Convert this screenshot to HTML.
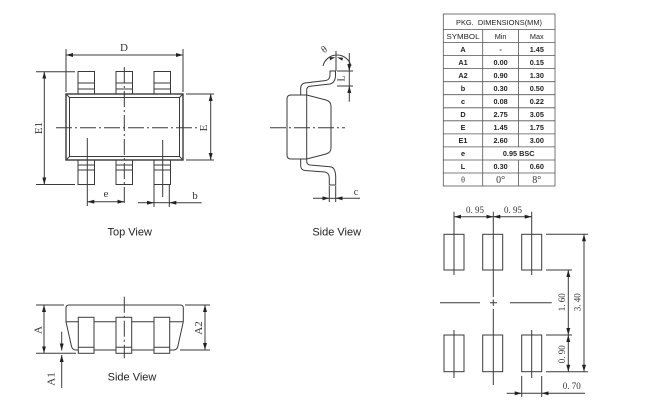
<!DOCTYPE html>
<html><head><meta charset="utf-8"><style>
html,body{margin:0;padding:0;background:#fff;}
svg{display:block;}
.s{font-family:"Liberation Serif",serif;fill:#333;}
.t{font-family:"Liberation Sans",sans-serif;fill:#222;}
</style></head><body>
<svg width="650" height="405" viewBox="0 0 650 405" xmlns="http://www.w3.org/2000/svg">
<defs>
<marker id="a" viewBox="0 0 7 4" refX="7" refY="2" markerWidth="7" markerHeight="4" markerUnits="userSpaceOnUse" orient="auto-start-reverse"><path d="M0,0 L7,2 L0,4 z" fill="#222"/></marker>
</defs>

<!-- ================= TOP VIEW ================= -->
<g fill="none" stroke="#3a3a3a" stroke-width="1">
 <path d="M66 49V92M183 49V92"/>
 <path d="M66 55H183" marker-start="url(#a)" marker-end="url(#a)"/>
 <rect x="78" y="71.5" width="16.5" height="23" fill="#fff"/>
 <rect x="116" y="71.5" width="16.5" height="23" fill="#fff"/>
 <rect x="154" y="71.5" width="16.5" height="23" fill="#fff"/>
 <path d="M78 83h16.5M78 89h16.5M116 83h16.5M116 89h16.5M154 83h16.5M154 89h16.5"/>
 <rect x="78" y="159.5" width="16.5" height="25" fill="#fff"/>
 <rect x="116" y="159.5" width="16.5" height="25" fill="#fff"/>
 <rect x="154" y="159.5" width="16.5" height="25" fill="#fff"/>
 <path d="M78 165h16.5M78 170h16.5M116 165h16.5M116 170h16.5M154 165h16.5M154 170h16.5"/>
 <rect x="66" y="94" width="117" height="66" stroke-width="1.4" fill="#fff"/>
 <rect x="69.5" y="97.5" width="110" height="59"/>
 <path d="M66 94l3.5 3.5M183 94l-3.5 3.5M66 160l3.5-3.5M183 160l-3.5-3.5"/>
 <path d="M124.3 67V206" stroke-dasharray="16 3 2 3"/>
 <path d="M56 127.7H200" stroke-dasharray="16 3 2 3"/>
 <path d="M36 71.7H75M36 184.5H75"/>
 <path d="M44.3 71.7V184.5" marker-start="url(#a)" marker-end="url(#a)"/>
 <path d="M186 94H214M186 160H214"/>
 <path d="M210.7 94V160" marker-start="url(#a)" marker-end="url(#a)"/>
 <path d="M87.3 138V206"/>
 <path d="M87.3 201.7H124.3" marker-start="url(#a)" marker-end="url(#a)"/>
 <path d="M162.7 140V197"/>
 <path d="M154 185V207M169.3 185V207"/>
 <path d="M138 202.7H154" marker-end="url(#a)"/>
 <path d="M201.7 202.7H169.3" marker-end="url(#a)"/>
 <path d="M154 202.7H169.3"/>
</g>
<text class="s" x="124" y="51" font-size="11" text-anchor="middle">D</text>
<text class="s" transform="translate(42,128) rotate(-90)" font-size="11" text-anchor="middle">E1</text>
<text class="s" transform="translate(207,128) rotate(-90)" font-size="11" text-anchor="middle">E</text>
<text class="s" x="106" y="197" font-size="11" text-anchor="middle">e</text>
<text class="s" x="195" y="199" font-size="11" text-anchor="middle">b</text>
<text class="t" x="129.7" y="235.7" font-size="11" text-anchor="middle">Top View</text>

<!-- ================= SIDE VIEW (right) ================= -->
<g fill="none" stroke="#3a3a3a" stroke-width="1">
 <path d="M300.7 95V88Q301 83.5 305 83L326 80.5Q330 79.5 330 75V71H335.5V76Q335 83 330 84L310 86.3Q306.7 87 306.7 90V95" fill="#fff"/>
 <path d="M300.7 159V166Q301 170 305 170.5L325 172Q329.3 173 329.3 178V185H335.7V177Q335.5 167 330 166.7L310 165Q306.7 164.5 306.7 161V159" fill="#fff"/>
 <path d="M306.7 95H291Q287 95 287 99V155Q287 159 291 159H306.7L326 154Q331 152.5 331 148V106Q331 101.5 326 100Z" fill="#fff"/>
 <path d="M306.7 95V159"/>
 <path d="M270 127.7H345" stroke-dasharray="16 3 2 3"/>
 <path d="M337 71H353M337 86H353"/>
 <path d="M349.3 53V71" marker-end="url(#a)"/>
 <path d="M349.3 101.7V86" marker-end="url(#a)"/>
 <path d="M349.3 71V86"/>
 <path d="M336 71V51"/>
 <path d="M323 66A14.4 14.4 0 0 1 351 66"/>
 <path d="M329.3 186V202M335.7 186V202"/>
 <path d="M313 198.3H329.3" marker-end="url(#a)"/>
 <path d="M360 198.3H335.7" marker-end="url(#a)"/>
 <path d="M329.3 198.3H335.7"/>
</g>
<polygon points="335.5,57.3 329.5,57.3 330,60.3" fill="#222"/>
<polygon points="337,57.3 343,57.8 342.3,60.6" fill="#222"/>
<text class="s" transform="translate(326,52) rotate(-35)" font-size="10" text-anchor="middle">θ</text>
<text class="s" transform="translate(344.5,78.5) rotate(-90)" font-size="10" text-anchor="middle">L</text>
<text class="s" x="356" y="195" font-size="10" text-anchor="middle">c</text>
<text class="t" x="336.7" y="235.7" font-size="11" text-anchor="middle">Side View</text>

<!-- ================= SIDE VIEW (bottom) ================= -->
<g fill="none" stroke="#3a3a3a" stroke-width="1">
 <path d="M183.3 321.7V308Q183.3 305 180.3 305H69Q66 305 66 308V321.7L71.5 346.5Q72.5 350 76 350H173.5Q177 350 177.8 346.5Z" fill="#fff"/>
 <path d="M66 321.7H183.3"/>
 <rect x="78.3" y="317.3" width="15.7" height="36" fill="#fff"/>
 <rect x="116" y="317.3" width="15.7" height="36" fill="#fff"/>
 <rect x="154" y="317.3" width="15.7" height="36" fill="#fff"/>
 <path d="M78.3 347.3h15.7M116 347.3h15.7M154 347.3h15.7"/>
 <path d="M124.3 296.7V358.3" stroke-dasharray="16 3 2 3"/>
 <path d="M36 305H64M36 353.3H76"/>
 <path d="M44 305V353.3" marker-start="url(#a)" marker-end="url(#a)"/>
 <path d="M61.7 331.7V350.5" marker-end="url(#a)"/>
 <path d="M61.7 388V355" marker-end="url(#a)"/>
 <path d="M185 305H210M180 350H210"/>
 <path d="M205 305V350" marker-start="url(#a)" marker-end="url(#a)"/>
</g>
<text class="s" transform="translate(41.5,330) rotate(-90)" font-size="11" text-anchor="middle">A</text>
<text class="s" transform="translate(54.5,379) rotate(-90)" font-size="11" text-anchor="middle">A1</text>
<text class="s" transform="translate(202,328) rotate(-90)" font-size="11" text-anchor="middle">A2</text>
<text class="t" x="132" y="380.5" font-size="11" text-anchor="middle">Side View</text>

<!-- ================= TABLE ================= -->
<g fill="none" stroke="#555" stroke-width="0.8">
 <rect x="443.3" y="14" width="111.7" height="172"/>
 <path d="M443.3 29.5H555M443.3 42.5H555M443.3 55.6H555M443.3 68.6H555M443.3 81.7H555M443.3 94.7H555M443.3 107.8H555M443.3 120.8H555M443.3 133.9H555M443.3 146.9H555M443.3 160H555M443.3 173H555"/>
 <path d="M482.7 29.5V186M518.5 29.5V146.9M518.5 160V186"/>
</g>
<g class="t" font-size="7.3" text-anchor="middle">
 <text x="499" y="25" textLength="86" lengthAdjust="spacingAndGlyphs">PKG.&#160;&#160;DIMENSIONS(MM)</text>
 <text x="463" y="38.8" textLength="33" lengthAdjust="spacingAndGlyphs">SYMBOL</text>
 <text x="500.6" y="38.8">Min</text>
 <text x="536.8" y="38.8">Max</text>
</g>
<g class="t" font-size="7.3" text-anchor="middle" font-weight="bold" fill="#333">
 <text x="463" y="51.8">A</text><text x="500.6" y="51.8">-</text><text x="536.8" y="51.8">1.45</text>
 <text x="463" y="64.8">A1</text><text x="500.6" y="64.8">0.00</text><text x="536.8" y="64.8">0.15</text>
 <text x="463" y="77.9">A2</text><text x="500.6" y="77.9">0.90</text><text x="536.8" y="77.9">1.30</text>
 <text x="463" y="90.9">b</text><text x="500.6" y="90.9">0.30</text><text x="536.8" y="90.9">0.50</text>
 <text x="463" y="104">c</text><text x="500.6" y="104">0.08</text><text x="536.8" y="104">0.22</text>
 <text x="463" y="117">D</text><text x="500.6" y="117">2.75</text><text x="536.8" y="117">3.05</text>
 <text x="463" y="130.1">E</text><text x="500.6" y="130.1">1.45</text><text x="536.8" y="130.1">1.75</text>
 <text x="463" y="143.1">E1</text><text x="500.6" y="143.1">2.60</text><text x="536.8" y="143.1">3.00</text>
 <text x="463" y="156.2">e</text><text x="518.7" y="156.2">0.95 BSC</text>
 <text x="463" y="169.2">L</text><text x="500.6" y="169.2">0.30</text><text x="536.8" y="169.2">0.60</text>
</g>
<g class="s" text-anchor="middle" fill="#888">
 <text x="463" y="182.5" font-size="8">θ</text>
 <text x="500.6" y="183" font-size="10">0°</text>
 <text x="536.8" y="183" font-size="10">8°</text>
</g>

<!-- ================= LAND PATTERN ================= -->
<g fill="none" stroke="#3a3a3a" stroke-width="1">
 <rect x="444" y="234.3" width="20" height="35.7"/>
 <rect x="482.7" y="234.3" width="20" height="35.7"/>
 <rect x="521.7" y="234.3" width="20" height="35.7"/>
 <rect x="444" y="335" width="20" height="36.7"/>
 <rect x="482.7" y="335" width="20" height="36.7"/>
 <rect x="521.7" y="335" width="20" height="36.7"/>
 <path d="M454 211.7V275M531.7 211.7V275M454 330V378M531.7 330V378"/>
 <path d="M493.3 211.7V297M493.3 299.5V306M493.3 309V385"/>
 <path d="M440 302.7H480M490 302.7H497M510 302.7H551.7"/>
 <path d="M454 216.7H493.3" marker-start="url(#a)" marker-end="url(#a)"/>
 <path d="M493.3 216.7H531.7" marker-start="url(#a)" marker-end="url(#a)"/>
 <path d="M546 234.3H588M546 371.7H588"/>
 <path d="M584 234.3V371.7" marker-start="url(#a)" marker-end="url(#a)"/>
 <path d="M546 270H572M546 335H572"/>
 <path d="M568.3 270V335" marker-start="url(#a)" marker-end="url(#a)"/>
 <path d="M568.3 335V371.7" marker-start="url(#a)" marker-end="url(#a)"/>
 <path d="M521.7 376V397M541.7 376V397"/>
 <path d="M506.7 393.3H521.7" marker-end="url(#a)"/>
 <path d="M585 393.3H541.7" marker-end="url(#a)"/>
 <path d="M521.7 393.3H541.7"/>
</g>
<g class="s" font-size="9" text-anchor="middle">
 <text x="475" y="213">0. 95</text>
 <text x="513" y="213">0. 95</text>
 <text transform="translate(565,302.3) rotate(-90)">1. 60</text>
 <text transform="translate(580.5,302.3) rotate(-90)">3. 40</text>
 <text transform="translate(565,354.3) rotate(-90)">0. 90</text>
 <text x="571.7" y="389">0. 70</text>
</g>
</svg>
</body></html>
